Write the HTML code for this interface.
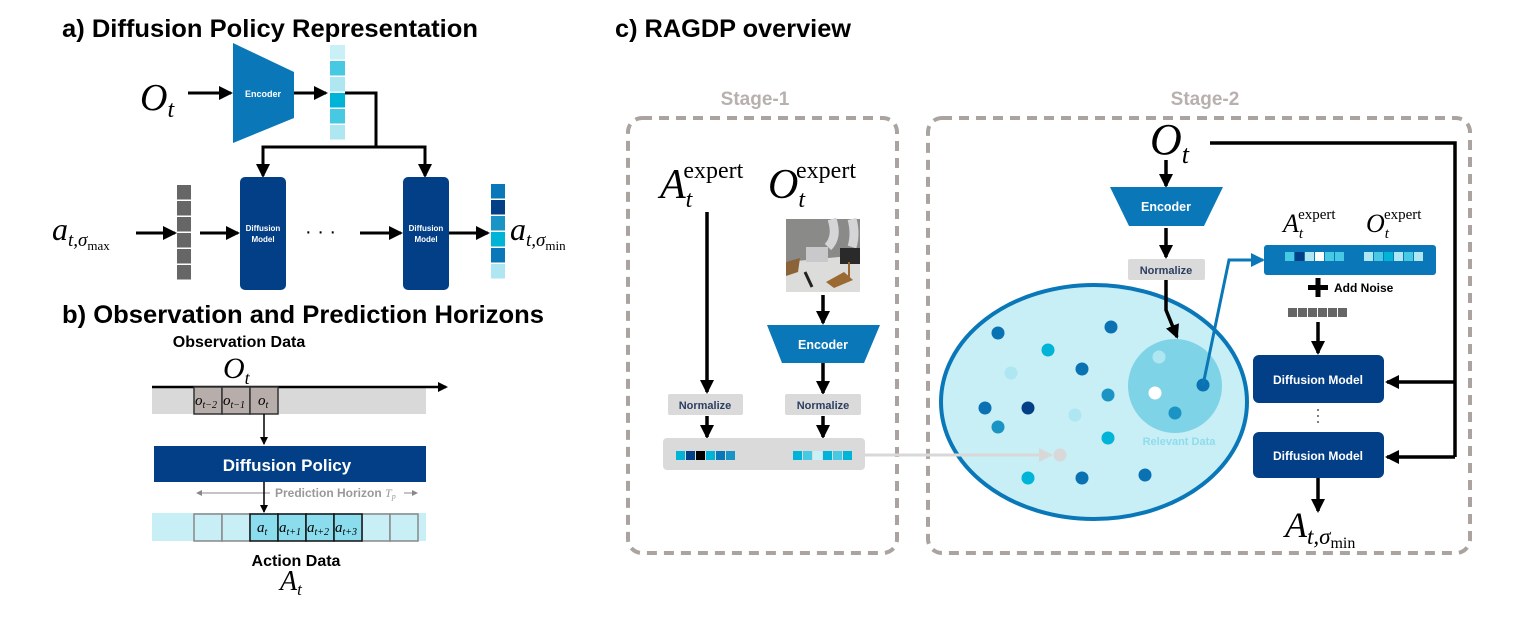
<!DOCTYPE html>
<html><head><meta charset="utf-8"><style>
html,body{margin:0;padding:0;background:#fff}
svg{display:block}
.t{font-family:"Liberation Sans",sans-serif;font-weight:bold}
.m{font-family:"Liberation Serif",serif;font-style:italic}
.r{font-family:"Liberation Serif",serif}
</style></head><body>
<svg width="1540" height="628" viewBox="0 0 1540 628" xmlns="http://www.w3.org/2000/svg">
<defs>
<marker id="ah" markerWidth="10" markerHeight="10" refX="8" refY="5" orient="auto" markerUnits="userSpaceOnUse"><path d="M0,0 L10,5 L0,10 z" fill="#000"/></marker>
<marker id="ahb" markerWidth="14" markerHeight="14" refX="12" refY="7" orient="auto" markerUnits="userSpaceOnUse"><path d="M0,0 L14,7 L0,14 z" fill="#000"/></marker>
<marker id="ahs" markerWidth="8" markerHeight="8" refX="7" refY="4" orient="auto" markerUnits="userSpaceOnUse"><path d="M0,0 L8,4 L0,8 z" fill="#000"/></marker>
<marker id="ahbl" markerWidth="14" markerHeight="14" refX="12" refY="7" orient="auto" markerUnits="userSpaceOnUse"><path d="M0,0 L14,7 L0,14 z" fill="#0a78b8"/></marker>
<marker id="ahg" markerWidth="14" markerHeight="14" refX="12" refY="7" orient="auto" markerUnits="userSpaceOnUse"><path d="M0,0 L14,7 L0,14 z" fill="#d8d8d8"/></marker>
</defs>

<!-- titles -->
<text class="t" x="62" y="37" font-size="25" textLength="416" lengthAdjust="spacingAndGlyphs">a) Diffusion Policy Representation</text>
<text class="t" x="62" y="323" font-size="25" textLength="482" lengthAdjust="spacingAndGlyphs">b) Observation and Prediction Horizons</text>
<text class="t" x="615" y="37" font-size="25" textLength="236" lengthAdjust="spacingAndGlyphs">c) RAGDP overview</text>

<!-- ===== a ===== -->
<text class="m" x="140" y="110" font-size="38">O<tspan font-size="24" dy="7">t</tspan></text>
<line x1="188" y1="93" x2="231" y2="93" stroke="#000" stroke-width="3" marker-end="url(#ahb)"/>
<polygon points="233,43 294,72 294,118 233,143" fill="#0a78b8"/>
<text class="t" x="263" y="97" font-size="9" fill="#fff" text-anchor="middle">Encoder</text>
<line x1="294" y1="93" x2="326" y2="93" stroke="#000" stroke-width="3" marker-end="url(#ahb)"/>
<g>
<rect x="330" y="45" width="15" height="14.5" fill="#c9eff7"/>
<rect x="330" y="61" width="15" height="14.5" fill="#48c9e3"/>
<rect x="330" y="77" width="15" height="14.5" fill="#aee6f2"/>
<rect x="330" y="93" width="15" height="14.5" fill="#00b4d8"/>
<rect x="330" y="109" width="15" height="14.5" fill="#48c9e3"/>
<rect x="330" y="125" width="15" height="14.5" fill="#aee6f2"/>
</g>
<polyline points="345,93 376,93 376,147" fill="none" stroke="#000" stroke-width="3"/>
<polyline points="263,175 263,147 425,147 425,175" fill="none" stroke="#000" stroke-width="3"/>
<line x1="263" y1="160" x2="263" y2="176" stroke="#000" stroke-width="3" marker-end="url(#ahb)"/>
<line x1="425" y1="160" x2="425" y2="176" stroke="#000" stroke-width="3" marker-end="url(#ahb)"/>
<rect x="240" y="177" width="46" height="113" rx="5" fill="#033f87"/>
<rect x="403" y="177" width="46" height="113" rx="5" fill="#033f87"/>
<text class="t" x="263" y="231" font-size="8" fill="#fff" text-anchor="middle">Diffusion</text>
<text class="t" x="263" y="242" font-size="8" fill="#fff" text-anchor="middle">Model</text>
<text class="t" x="426" y="231" font-size="8" fill="#fff" text-anchor="middle">Diffusion</text>
<text class="t" x="426" y="242" font-size="8" fill="#fff" text-anchor="middle">Model</text>
<g fill="#666">
<rect x="177" y="185" width="14" height="14.5"/><rect x="177" y="201" width="14" height="14.5"/><rect x="177" y="217" width="14" height="14.5"/><rect x="177" y="233" width="14" height="14.5"/><rect x="177" y="249" width="14" height="14.5"/><rect x="177" y="265" width="14" height="14.5"/>
</g>
<text class="m" x="52" y="240" font-size="32">a<tspan font-size="19" dy="6">t,σ</tspan><tspan font-size="13" dy="4" class="r" font-style="normal">max</tspan></text>
<line x1="136" y1="233" x2="175" y2="233" stroke="#000" stroke-width="3" marker-end="url(#ahb)"/>
<line x1="200" y1="233" x2="238" y2="233" stroke="#000" stroke-width="3" marker-end="url(#ahb)"/>
<text x="305" y="238" font-size="20" font-family="Liberation Sans" fill="#000">· · ·</text>
<line x1="360" y1="233" x2="401" y2="233" stroke="#000" stroke-width="3" marker-end="url(#ahb)"/>
<line x1="449" y1="233" x2="488" y2="233" stroke="#000" stroke-width="3" marker-end="url(#ahb)"/>
<rect x="491" y="184" width="14" height="14.5" fill="#0a78b8"/>
<rect x="491" y="200" width="14" height="14.5" fill="#033f87"/>
<rect x="491" y="216" width="14" height="14.5" fill="#1a94c4"/>
<rect x="491" y="232" width="14" height="14.5" fill="#00b4d8"/>
<rect x="491" y="248" width="14" height="14.5" fill="#0a78b8"/>
<rect x="491" y="264" width="14" height="14.5" fill="#aee6f2"/>
<text class="m" x="510" y="240" font-size="32">a<tspan font-size="19" dy="6">t,σ</tspan><tspan font-size="13" dy="4" class="r" font-style="normal">min</tspan></text>

<!-- ===== b ===== -->
<text class="t" x="239" y="347" font-size="16" text-anchor="middle">Observation Data</text>
<text class="m" x="223" y="378" font-size="30">O<tspan font-size="18" dy="6">t</tspan></text>
<rect x="152" y="387" width="274" height="27" fill="#d9d9d9"/>
<line x1="152" y1="387" x2="446" y2="387" stroke="#000" stroke-width="2.5" marker-end="url(#ah)"/>
<rect x="194" y="387" width="28" height="27" fill="#b7adab" stroke="#333" stroke-width="1.5"/>
<rect x="222" y="387" width="28" height="27" fill="#b7adab" stroke="#333" stroke-width="1.5"/>
<rect x="250" y="387" width="28" height="27" fill="#b7adab" stroke="#333" stroke-width="1.5"/>
<text class="m" x="195" y="405" font-size="15">o<tspan font-size="10" dy="3">t−2</tspan></text>
<text class="m" x="223" y="405" font-size="15">o<tspan font-size="10" dy="3">t−1</tspan></text>
<text class="m" x="258" y="405" font-size="15">o<tspan font-size="10" dy="3">t</tspan></text>
<line x1="264" y1="414" x2="264" y2="444" stroke="#000" stroke-width="1.5" marker-end="url(#ahs)"/>
<rect x="154" y="446" width="272" height="36" fill="#033f87"/>
<text class="t" x="287" y="471" font-size="17" fill="#fff" text-anchor="middle">Diffusion Policy</text>
<line x1="200" y1="493" x2="270" y2="493" stroke="#888" stroke-width="1"/>
<path d="M196,493 l6,-3 v6 z" fill="#888"/>
<text class="t" x="275" y="497" font-size="12" fill="#999">Prediction Horizon <tspan class="m" font-weight="normal">T<tspan font-size="8" dy="2">p</tspan></tspan></text>
<line x1="404" y1="493" x2="414" y2="493" stroke="#888" stroke-width="1"/>
<path d="M418,493 l-6,-3 v6 z" fill="#888"/>
<line x1="264" y1="482" x2="264" y2="512" stroke="#000" stroke-width="1.5" marker-end="url(#ahs)"/>
<rect x="152" y="513" width="274" height="28" fill="#c8eef6"/>
<g stroke="#888" stroke-width="1.5" fill="#c8eef6">
<rect x="194" y="514" width="28" height="27"/><rect x="222" y="514" width="28" height="27"/>
<rect x="362" y="514" width="28" height="27"/><rect x="390" y="514" width="28" height="27"/>
</g>
<g stroke="#111" stroke-width="1.5" fill="#8bdcec">
<rect x="250" y="514" width="28" height="27"/><rect x="278" y="514" width="28" height="27"/><rect x="306" y="514" width="28" height="27"/><rect x="334" y="514" width="28" height="27"/>
</g>
<text class="m" x="257" y="532" font-size="15">a<tspan font-size="10" dy="3">t</tspan></text>
<text class="m" x="279" y="532" font-size="15">a<tspan font-size="10" dy="3">t+1</tspan></text>
<text class="m" x="307" y="532" font-size="15">a<tspan font-size="10" dy="3">t+2</tspan></text>
<text class="m" x="335" y="532" font-size="15">a<tspan font-size="10" dy="3">t+3</tspan></text>
<text class="t" x="296" y="566" font-size="16" text-anchor="middle">Action Data</text>
<text class="m" x="280" y="590" font-size="28">A<tspan font-size="17" dy="5">t</tspan></text>

<!-- ===== c Stage-1 ===== -->
<text class="t" x="755" y="105" font-size="19" fill="#b8b0ae" text-anchor="middle">Stage-1</text>
<rect x="628" y="118" width="269" height="435" rx="14" fill="none" stroke="#aaa3a0" stroke-width="4" stroke-dasharray="10 7"/>
<text class="m" x="660" y="198" font-size="42">A<tspan font-size="24" dy="9">t</tspan><tspan font-size="24" dy="-29" class="r" font-style="normal" dx="-9">expert</tspan></text>
<text class="m" x="768" y="198" font-size="42">O<tspan font-size="24" dy="9">t</tspan><tspan font-size="24" dy="-29" class="r" font-style="normal" dx="-9">expert</tspan></text>
<line x1="707" y1="212" x2="707" y2="392" stroke="#000" stroke-width="3.5" marker-end="url(#ahb)"/>
<!-- robot image -->
<g>
<rect x="786" y="219" width="74" height="73" fill="#8a8a88"/>
<polygon points="786,262 860,255 860,292 786,292" fill="#dcdcda"/>
<polygon points="786,262 800,258 798,272 786,276" fill="#8a6438"/>
<path d="M832,219 q6,18 -4,28" stroke="#d5d5d8" stroke-width="9" fill="none"/>
<path d="M852,219 q4,15 0,28" stroke="#d5d5d8" stroke-width="9" fill="none"/>
<rect x="840" y="248" width="20" height="16" fill="#2a2a2a"/>
<rect x="806" y="247" width="22" height="15" fill="#c9c9cc"/>
<polygon points="826,282 844,272 853,280 834,288" fill="#9a6a32"/>
<line x1="849" y1="262" x2="849" y2="277" stroke="#9a6a32" stroke-width="2"/>
<line x1="805" y1="272" x2="812" y2="287" stroke="#222" stroke-width="3"/>
</g>
<line x1="823" y1="295" x2="823" y2="323" stroke="#000" stroke-width="3.5" marker-end="url(#ahb)"/>
<polygon points="767,325 880,325 864,363 782,363" fill="#0a78b8"/>
<text class="t" x="823" y="349" font-size="12.5" fill="#fff" text-anchor="middle">Encoder</text>
<line x1="823" y1="363" x2="823" y2="393" stroke="#000" stroke-width="3.5" marker-end="url(#ahb)"/>
<rect x="668" y="394" width="75" height="21" rx="2" fill="#dadada"/>
<rect x="785" y="394" width="76" height="21" rx="2" fill="#dadada"/>
<text class="t" x="705" y="409" font-size="11" fill="#2c3e60" text-anchor="middle">Normalize</text>
<text class="t" x="823" y="409" font-size="11" fill="#2c3e60" text-anchor="middle">Normalize</text>
<line x1="707" y1="416" x2="707" y2="437" stroke="#000" stroke-width="3.5" marker-end="url(#ahb)"/>
<line x1="823" y1="416" x2="823" y2="437" stroke="#000" stroke-width="3.5" marker-end="url(#ahb)"/>
<rect x="663" y="438" width="202" height="32" rx="4" fill="#dadada"/>
<g>
<rect x="676" y="451" width="9" height="9" fill="#00b4d8"/><rect x="686" y="451" width="9" height="9" fill="#033f87"/><rect x="696" y="451" width="9" height="9" fill="#000"/><rect x="706" y="451" width="9" height="9" fill="#00b4d8"/><rect x="716" y="451" width="9" height="9" fill="#0a78b8"/><rect x="726" y="451" width="9" height="9" fill="#1a94c4"/>
<rect x="793" y="451" width="9" height="9" fill="#00b4d8"/><rect x="803" y="451" width="9" height="9" fill="#48c9e3"/><rect x="813" y="451" width="9" height="9" fill="#c9eff7"/><rect x="823" y="451" width="9" height="9" fill="#00b4d8"/><rect x="833" y="451" width="9" height="9" fill="#48c9e3"/><rect x="843" y="451" width="9" height="9" fill="#00b4d8"/>
</g>

<!-- ===== Stage-2 ===== -->
<text class="t" x="1205" y="105" font-size="19" fill="#b8b0ae" text-anchor="middle">Stage-2</text>
<rect x="928" y="118" width="542" height="435" rx="14" fill="none" stroke="#aaa3a0" stroke-width="4" stroke-dasharray="10 7"/>
<ellipse cx="1094" cy="402" rx="153" ry="117" fill="#c8eef6" stroke="#0a78b8" stroke-width="4"/>
<circle cx="1175" cy="386" r="47" fill="#7fd3e6"/>
<text class="t" x="1179" y="445" font-size="11" fill="#8fdcec" text-anchor="middle">Relevant Data</text>
<g>
<circle cx="998" cy="333" r="6.5" fill="#0a72b3"/>
<circle cx="1111" cy="327" r="6.5" fill="#0a72b3"/>
<circle cx="1048" cy="350" r="6.5" fill="#00b4d8"/>
<circle cx="1011" cy="373" r="6.5" fill="#aee6f2"/>
<circle cx="1082" cy="369" r="6.5" fill="#0a72b3"/>
<circle cx="1108" cy="395" r="6.5" fill="#1a94c4"/>
<circle cx="985" cy="408" r="6.5" fill="#0a72b3"/>
<circle cx="1028" cy="408" r="6.5" fill="#033f87"/>
<circle cx="1075" cy="415" r="6.5" fill="#aee6f2"/>
<circle cx="998" cy="427" r="6.5" fill="#1a94c4"/>
<circle cx="1108" cy="438" r="6.5" fill="#00b4d8"/>
<circle cx="1028" cy="478" r="6.5" fill="#00b4d8"/>
<circle cx="1082" cy="478" r="6.5" fill="#0a72b3"/>
<circle cx="1145" cy="475" r="6.5" fill="#0a72b3"/>
<circle cx="1159" cy="357" r="6.5" fill="#aee6f2"/>
<circle cx="1155" cy="393" r="6.5" fill="#fff"/>
<circle cx="1203" cy="385" r="6.5" fill="#0a72b3"/>
<circle cx="1175" cy="413" r="6.5" fill="#1a94c4"/>
</g>
<line x1="865" y1="455" x2="1051" y2="455" stroke="#d8d8d8" stroke-width="3" marker-end="url(#ahg)"/>
<circle cx="1060" cy="455" r="6.5" fill="#d8d8d8"/>

<text class="m" x="1150" y="154" font-size="44">O<tspan font-size="26" dy="9">t</tspan></text>
<polyline points="1210,143 1455,143 1455,457" fill="none" stroke="#000" stroke-width="3.5"/>
<line x1="1455" y1="382" x2="1387" y2="382" stroke="#000" stroke-width="3.5" marker-end="url(#ahb)"/>
<line x1="1455" y1="457" x2="1387" y2="457" stroke="#000" stroke-width="3.5" marker-end="url(#ahb)"/>
<line x1="1166" y1="160" x2="1166" y2="186" stroke="#000" stroke-width="3.5" marker-end="url(#ahb)"/>
<polygon points="1110,187 1223,187 1204,226 1129,226" fill="#0a78b8"/>
<text class="t" x="1166" y="211" font-size="12.5" fill="#fff" text-anchor="middle">Encoder</text>
<line x1="1166" y1="228" x2="1166" y2="257" stroke="#000" stroke-width="3.5" marker-end="url(#ahb)"/>
<rect x="1128" y="259" width="77" height="21" rx="2" fill="#dadada"/>
<text class="t" x="1166" y="274" font-size="11" fill="#2c3e60" text-anchor="middle">Normalize</text>
<polyline points="1166,280 1166,310 1177,337" fill="none" stroke="#000" stroke-width="3.5" marker-end="url(#ahb)"/>
<polyline points="1203,385 1229,260 1263,260" fill="none" stroke="#0a78b8" stroke-width="3" marker-end="url(#ahbl)"/>
<text class="m" x="1283" y="232" font-size="26">A<tspan font-size="15" dy="6">t</tspan><tspan font-size="15" dy="-19" class="r" font-style="normal" dx="-5">expert</tspan></text>
<text class="m" x="1366" y="232" font-size="26">O<tspan font-size="15" dy="6">t</tspan><tspan font-size="15" dy="-19" class="r" font-style="normal" dx="-5">expert</tspan></text>
<rect x="1264" y="245" width="172" height="30" rx="3" fill="#0a78b8"/>
<g>
<rect x="1285" y="252" width="9" height="9" fill="#48c9e3"/><rect x="1295" y="252" width="9" height="9" fill="#033f87"/><rect x="1305" y="252" width="9" height="9" fill="#aee6f2"/><rect x="1315" y="252" width="9" height="9" fill="#fff"/><rect x="1325" y="252" width="9" height="9" fill="#48c9e3"/><rect x="1335" y="252" width="9" height="9" fill="#48c9e3"/>
<rect x="1364" y="252" width="9" height="9" fill="#aee6f2"/><rect x="1374" y="252" width="9" height="9" fill="#48c9e3"/><rect x="1384" y="252" width="9" height="9" fill="#00b4d8"/><rect x="1394" y="252" width="9" height="9" fill="#aee6f2"/><rect x="1404" y="252" width="9" height="9" fill="#48c9e3"/><rect x="1414" y="252" width="9" height="9" fill="#aee6f2"/>
</g>
<rect x="1308" y="285" width="20" height="5" fill="#000"/><rect x="1315.5" y="278" width="5" height="19" fill="#000"/>
<text class="t" x="1334" y="292" font-size="12">Add Noise</text>
<g fill="#666">
<rect x="1288" y="308" width="9" height="9"/><rect x="1298" y="308" width="9" height="9"/><rect x="1308" y="308" width="9" height="9"/><rect x="1318" y="308" width="9" height="9"/><rect x="1328" y="308" width="9" height="9"/><rect x="1338" y="308" width="9" height="9"/>
</g>
<line x1="1318" y1="322" x2="1318" y2="353" stroke="#000" stroke-width="3.5" marker-end="url(#ahb)"/>
<rect x="1253" y="355" width="131" height="48" rx="6" fill="#033f87"/>
<text class="t" x="1318" y="384" font-size="12" fill="#fff" text-anchor="middle">Diffusion Model</text>
<g fill="#555"><circle cx="1318" cy="410" r="1"/><circle cx="1318" cy="416" r="1"/><circle cx="1318" cy="422" r="1"/></g>
<rect x="1253" y="432" width="131" height="46" rx="6" fill="#033f87"/>
<text class="t" x="1318" y="460" font-size="12" fill="#fff" text-anchor="middle">Diffusion Model</text>
<line x1="1318" y1="478" x2="1318" y2="511" stroke="#000" stroke-width="3.5" marker-end="url(#ahb)"/>
<text class="m" x="1285" y="537" font-size="36">A<tspan font-size="23" dy="7">t,σ</tspan><tspan font-size="16" dy="4" class="r" font-style="normal">min</tspan></text>
</svg>
</body></html>
